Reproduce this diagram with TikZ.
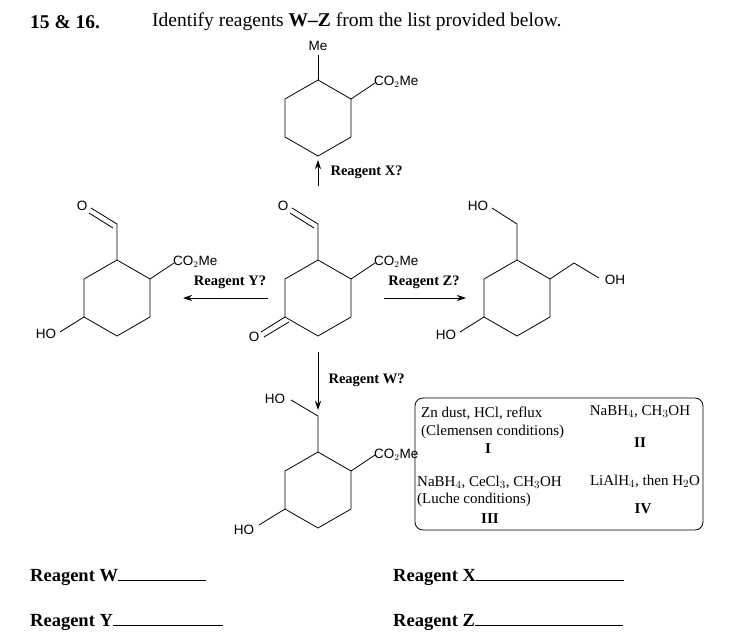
\documentclass[tikz,border=0pt]{standalone}
\usepackage{fontspec}
\setmainfont{Liberation Serif}
\newfontfamily\chemfont{Liberation Sans}
\usetikzlibrary{arrows.meta,positioning,calc}

% hexagon with pointy top, centre (#1,#2)
\newcommand{\hexring}[2]{%
  \draw[bond] (#1,#2-38) -- (#1+33,#2-19) -- (#1+33,#2+19) -- (#1,#2+38)
    -- (#1-33,#2+19) -- (#1-33,#2-19) -- cycle;}

\tikzset{
  bond/.style={line width=0.8pt, line join=round},
  atom/.style={font=\chemfont\fontsize{13.5}{13.5}\selectfont, inner sep=1pt},
  rxn/.style={-{Stealth[length=9pt,width=6pt]}, line width=0.8pt},
  rlab/.style={font=\bfseries\fontsize{14.5}{14.5}\selectfont},
  boxtxt/.style={font=\fontsize{15}{16}\selectfont, inner sep=0pt},
  roman/.style={font=\bfseries\fontsize{15}{16}\selectfont, inner sep=0pt},
  answer/.style={font=\bfseries\fontsize{18.5}{18.5}\selectfont, anchor=west, inner sep=0pt}
}

\begin{document}
\begin{tikzpicture}[x=1pt, y=-1pt]
  \useasboundingbox (0,0) rectangle (748,634);

  % Title
  \node[anchor=west, font=\bfseries\fontsize{19.5}{19.5}\selectfont, inner sep=0pt] (num) at (30,22) {15 \& 16.};
  \node[anchor=west, font=\fontsize{19.5}{19.5}\selectfont, inner sep=0pt] (task) at (152,22)
    {Identify reagents \textbf{W--Z} from the list provided below.};

  % Top product (reagent X)
  \hexring{318}{118}
  \draw[bond] (318,80) -- (318,55);
  \node[atom] (me) at (318,46) {Me};
  \draw[bond] (351,99) -- (375,83);
  \node[atom, anchor=west] (esX) at (373,82) {CO$_2$Me};

  % Starting material (centre)
  \hexring{318}{298}
  \draw[bond] (318,260) -- (318,224) -- (292,208);
  \draw[bond] (314,228) -- (290,213);
  \node[atom] (oA) at (283,206) {O};
  \draw[bond] (351,279) -- (375,263);
  \node[atom, anchor=west] (esC) at (373,262) {CO$_2$Me};
  \draw[bond] (285,317) -- (261,332);
  \draw[bond] (289,322) -- (264,337);
  \node[atom] (oK) at (254,337) {O};

  % Left product (reagent Y)
  \hexring{117}{298}
  \draw[bond] (117,260) -- (117,224) -- (91,208);
  \draw[bond] (113,228) -- (89,213);
  \node[atom] (oY) at (82,206) {O};
  \draw[bond] (150,279) -- (174,263);
  \node[atom, anchor=west] (esY) at (172,262) {CO$_2$Me};
  \draw[bond] (84,317) -- (60,332);
  \node[atom] (hoY) at (46,334) {HO};

  % Right product (reagent Z)
  \hexring{517}{298}
  \draw[bond] (517,260) -- (517,224) -- (492,208);
  \node[atom] (hoZa) at (478,206) {HO};
  \draw[bond] (550,279) -- (574,263) -- (599,278);
  \node[atom] (ohZ) at (615,280) {OH};
  \draw[bond] (484,317) -- (460,332);
  \node[atom] (hoZb) at (446,335) {HO};

  % Bottom product (reagent W)
  \hexring{318}{490}
  \draw[bond] (318,452) -- (318,416) -- (291,400);
  \node[atom] (hoWa) at (275,399) {HO};
  \draw[bond] (351,471) -- (375,455);
  \node[atom, anchor=west] (esW) at (373,455) {CO$_2$Me};
  \draw[bond] (285,509) -- (259,525);
  \node[atom] (hoWb) at (244,530) {HO};

  % Reaction arrows
  \coordinate (xs) at (318,186); \coordinate (xe) at (318,160);
  \coordinate (ys) at (268,298); \coordinate (ye) at (183,298);
  \coordinate (zs) at (384,298); \coordinate (ze) at (466,298);
  \coordinate (ws) at (318,352); \coordinate (we) at (318,410);
  \draw[rxn] (xs) -- (xe);
  \draw[rxn] (ys) -- (ye);
  \draw[rxn] (zs) -- (ze);
  \draw[rxn] (ws) -- (we);
  \node[rlab, anchor=west] (labX) at (327,172) {Reagent X?};
  \node[rlab] (labY) at (230,282) {Reagent Y?};
  \node[rlab] (labZ) at (424,282) {Reagent Z?};
  \node[rlab, anchor=west] (labW) at (325,380) {Reagent W?};

  % Reagent list
  \draw[rounded corners=8pt, line width=0.8pt] (415,398) rectangle (703,530);
  \node[boxtxt, anchor=west] (r1a) at (421,413) {Zn dust, HCl, reflux};
  \node[boxtxt, anchor=west] (r1b) at (421,432) {(Clemensen conditions)};
  \node[roman] (r1) at (488,449) {I};
  \node[boxtxt] (r2a) at (640,412) {NaBH$_4$, CH$_3$OH};
  \node[roman] (r2) at (640,443) {II};
  \node[boxtxt, anchor=west] (r3a) at (417,482) {NaBH$_4$, CeCl$_3$, CH$_3$OH};
  \node[boxtxt, anchor=west] (r3b) at (417,500) {(Luche conditions)};
  \node[roman] (r3) at (490,519) {III};
  \node[boxtxt] (r4a) at (645,481) {LiAlH$_4$, then H$_2$O};
  \node[roman] (r4) at (643,509) {IV};

  % Answer lines
  \node[answer] (ansW) at (30,577) {Reagent W\rule{88pt}{0.9pt}};
  \node[answer] (ansX) at (393,577) {Reagent X\rule{148pt}{0.9pt}};
  \node[answer] (ansY) at (30,622) {Reagent Y\rule{110pt}{0.9pt}};
  \node[answer] (ansZ) at (393,622) {Reagent Z\rule{148pt}{0.9pt}};
\end{tikzpicture}
\end{document}
